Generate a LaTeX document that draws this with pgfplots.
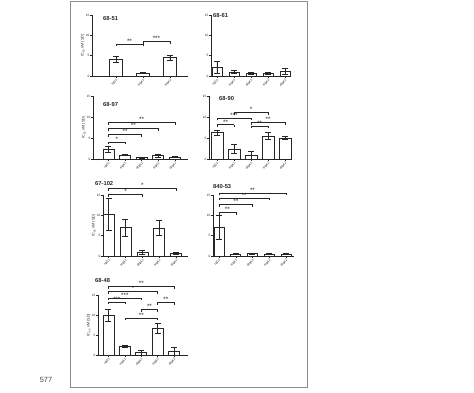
\documentclass[border=0pt]{standalone}
\usepackage{fontspec}
\setmainfont{Liberation Sans}
\usepackage{pgfplots}
\pgfplotsset{compat=1.18}
\colorlet{ink}{black!85}
\pgfplotsset{
 panel/.style={
  scale only axis, ybar,
  axis x line=bottom, axis y line=left,
  axis line style={-, line width=0.6bp, ink},
  ymin=0, ymax=15, ytick={0,5,10,15},
  xtick={0,1,2,3,4},
  xticklabels={IgG1,sIgA1,dIgA1,sIgA2,dIgA2},
  tick style={line width=0.5bp, ink},
  major tick length=1.8bp,
  tick align=outside,
  yticklabel style={font=\fontsize{3.2}{3}\selectfont, inner sep=0.6bp, text=ink},
  xticklabel style={font=\fontsize{3.2}{3}\selectfont, rotate=45, anchor=north east, inner sep=0.6bp, text=ink},
  /pgf/number format/assume math mode=true,
  clip=false,
  ylabel style={font=\fontsize{3.8}{4}\selectfont, inner sep=0.5bp, text=ink},
 },
 plotst/.style={fill=white, draw=ink, line width=0.6bp,
  error bars/.cd, y dir=both, y explicit,
  error bar style={line width=0.6bp, ink},
  error mark options={rotate=90, mark size=3bp, line width=0.6bp, ink}},
}
\newcommand\brk[4]{%
  \draw[line width=0.5bp, ink] (axis cs:#1,#3) -- (axis cs:#2,#3) node[midway, above, inner sep=0.3bp, font=\fontsize{6.3}{5}\selectfont]{#4};
  \draw[line width=0.5bp, ink] (axis cs:#1,#3) -- ([yshift=-2.5bp]axis cs:#1,#3);
  \draw[line width=0.5bp, ink] (axis cs:#2,#3) -- ([yshift=-2.5bp]axis cs:#2,#3);}
\tikzset{ttl/.style={anchor=west, font=\bfseries\fontsize{5.8}{6}\selectfont, text=ink, inner sep=0pt}}
\begin{document}
\begin{tikzpicture}
\path[use as bounding box] (0,0) rectangle (474bp,-393bp);
\draw[black!45, line width=1bp] (70.5bp,-1bp) rectangle (307bp,-387bp);
\node[font=\fontsize{7.5}{8}\selectfont, text=black!75] at (46bp,-380bp) {577};

% P1 68-51
\begin{axis}[panel, at={(92bp,-76bp)}, anchor=south west, width=96bp, height=61bp,
  xmin=-0.89, xmax=2.67, xtick={0,1,2}, xticklabels={IgG1,sIgA1,sIgA2}, bar width=13bp,
  ylabel={IC\textsubscript{50} nM (SD)}]
\addplot[plotst] coordinates {(0,4.1) +- (0,0.8) (1,0.7) +- (0,0.1) (2,4.5) +- (0,0.7)};
\brk{0}{1}{7.9}{**}
\brk{1}{2}{8.6}{***}
\end{axis}
\node[ttl] at (103bp,-19bp) {68-51};

% P2 68-61
\begin{axis}[panel, at={(211bp,-76bp)}, anchor=south west, width=79bp, height=61bp,
  xmin=-0.35, xmax=4.29, bar width=10bp]
\addplot[plotst] coordinates {(0,2.1) +- (0,1.5) (1,1.0) +- (0,0.3) (2,0.6) +- (0,0.2) (3,0.7) +- (0,0.3) (4,1.2) +- (0,0.7)};
\end{axis}
\node[ttl] at (213bp,-16bp) {68-61};

% P3 68-97
\begin{axis}[panel, at={(93bp,-159bp)}, anchor=south west, width=95bp, height=63bp,
  xmin=-0.93, xmax=4.79, bar width=11bp,
  ylabel={IC\textsubscript{50} nM (SD)}]
\addplot[plotst] coordinates {(0,2.4) +- (0,0.7) (1,1.0) +- (0,0.2) (2,0.3) +- (0,0.1) (3,0.8) +- (0,0.4) (4,0.5) +- (0,0.1)};
\brk{0}{1}{4.1}{*}
\brk{0}{2}{5.9}{**}
\brk{0}{3}{7.3}{**}
\brk{0}{4}{8.7}{**}
\end{axis}
\node[ttl] at (103bp,-105bp) {68-97};

% P4 68-90
\begin{axis}[panel, at={(209bp,-159bp)}, anchor=south west, width=81bp, height=63bp,
  xmin=-0.47, xmax=4.29, bar width=12bp]
\addplot[plotst] coordinates {(0,6.3) +- (0,0.6) (1,2.4) +- (0,1.1) (2,0.95) +- (0,0.95) (3,5.5) +- (0,0.9) (4,5.0) +- (0,0.4)};
\brk{0}{1}{8.2}{**}
\brk{0}{2}{9.8}{***}
\brk{1}{3}{11.1}{*}
\brk{2}{3}{7.9}{**}
\brk{2}{4}{8.7}{**}
\end{axis}
\node[ttl] at (219bp,-99bp) {68-90};

% P5 67-102
\begin{axis}[panel, at={(103bp,-256bp)}, anchor=south west, width=85bp, height=61bp,
  xmin=-0.33, xmax=4.7, bar width=11bp,
  ylabel={IC\textsubscript{50} nM (SD)}]
\addplot[plotst] coordinates {(0,10.3) +- (0,3.9) (1,7.0) +- (0,2.1) (2,0.9) +- (0,0.6) (3,6.9) +- (0,1.8) (4,0.6) +- (0,0.3)};
\brk{0}{2}{15.2}{*}
\brk{0}{4}{16.6}{*}
\end{axis}
\node[ttl] at (95bp,-184bp) {67-102};

% P6 840-53
\begin{axis}[panel, at={(213bp,-256bp)}, anchor=south west, width=81bp, height=61bp,
  xmin=-0.36, xmax=4.48, bar width=10bp]
\addplot[plotst] coordinates {(0,7.0) +- (0,2.9) (1,0.5) +- (0,0.15) (2,0.55) +- (0,0.15) (3,0.5) +- (0,0.15) (4,0.5) +- (0,0.15)};
\brk{0}{1}{10.7}{**}
\brk{0}{2}{12.7}{**}
\brk{0}{3}{14.3}{**}
\brk{0}{4}{15.5}{**}
\end{axis}
\node[ttl] at (213bp,-187bp) {840-53};

% P7 68-48
\begin{axis}[panel, at={(98bp,-355bp)}, anchor=south west, width=90bp, height=60bp,
  xmin=-0.64, xmax=4.85, bar width=11bp,
  ylabel={IC\textsubscript{50} nM (SD)}]
\addplot[plotst] coordinates {(0,10.0) +- (0,1.5) (1,2.25) +- (0,0.25) (2,0.6) +- (0,0.7) (3,6.7) +- (0,1.2) (4,1.0) +- (0,1.0)};
\brk{0}{1}{13.3}{***}
\brk{0}{2}{14.3}{***}
\brk{0}{3}{16}{*}
\brk{0}{4}{17.25}{**}
\brk{1}{3}{9.3}{**}
\brk{2}{3}{11.5}{**}
\brk{3}{4}{13.2}{**}
\end{axis}
\node[ttl] at (95bp,-281bp) {68-48};
\end{tikzpicture}
\end{document}
